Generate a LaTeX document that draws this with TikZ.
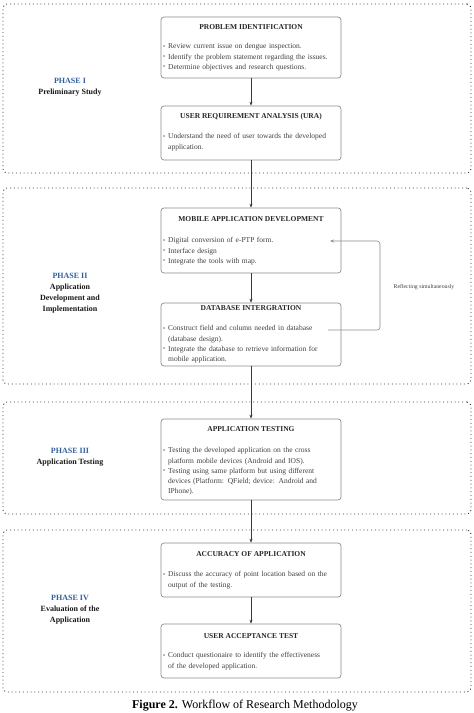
\documentclass[tikz,border=0pt]{standalone}
\usepackage{fontspec}
\setmainfont{Liberation Serif}
\usetikzlibrary{arrows.meta}
\definecolor{boxline}{HTML}{8C8C8C}
\definecolor{bodytext}{HTML}{404040}
\definecolor{phaseblue}{HTML}{2F5F9E}
\definecolor{dotline}{HTML}{3A3A3A}
\newcommand\bl{\makebox[5pt][l]{\raisebox{0.6pt}{\fontsize{6}{6}\selectfont\textbullet}}}
\newcommand\cn{\\\hspace*{5pt}}
\begin{document}
\begin{tikzpicture}[x=1pt,y=-1pt,
  phasebox/.style={draw=dotline, line width=0.9pt, dash pattern=on 1pt off 2.8pt, rounded corners=4pt},
  stepbox/.style={draw=boxline, line width=0.7pt, rounded corners=3pt, minimum width=180pt, inner sep=0pt},
  steptitle/.style={font=\fontsize{7.5}{9}\selectfont\bfseries, text=black!85, inner sep=0pt},
  stepbody/.style={font=\fontsize{7.5}{10.2}\selectfont, text=bodytext, inner sep=0pt, text width=185pt, align=left, anchor=north west},
  phaselabel/.style={font=\fontsize{8}{11}\selectfont\bfseries, align=center, inner sep=0pt, text=black!90},
  flow/.style={draw=dotline, line width=0.6pt, -{Stealth[length=4pt,width=3pt]}},
  fb/.style={draw=boxline, line width=0.6pt, rounded corners=3pt, -{Stealth[length=4pt,width=3pt]}}
]
\useasboundingbox (0,0) rectangle (474,713);

% phase frames
\node[phasebox, minimum width=468pt, minimum height=169pt, inner sep=0pt] (ph1) at (237,88.5) {};
\node[phasebox, minimum width=468pt, minimum height=196pt, inner sep=0pt] (ph2) at (237,286) {};
\node[phasebox, minimum width=468pt, minimum height=112pt, inner sep=0pt] (ph3) at (237,458) {};
\node[phasebox, minimum width=468pt, minimum height=162pt, inner sep=0pt] (ph4) at (237,611) {};

% phase labels
\node[phaselabel] (l1) at (70,87.5) {\textcolor{phaseblue}{PHASE I}\\Preliminary Study};
\node[phaselabel] (l2) at (70,293) {\textcolor{phaseblue}{PHASE II}\\Application\\Development and\\Implementation};
\node[phaselabel] (l3) at (70,457.5) {\textcolor{phaseblue}{PHASE III}\\Application Testing};
\node[phaselabel] (l4) at (70,610) {\textcolor{phaseblue}{PHASE IV}\\Evaluation of the\\Application};

% step boxes
\node[stepbox, minimum height=61pt] (pi) at (251,47.5) {};
\node[steptitle] (pit) at (251,27) {PROBLEM IDENTIFICATION};
\node[stepbody] (pib) at (163,43.5) {\bl Review current issue on dengue inspection.\\\bl Identify the problem statement regarding the issues.\\\bl Determine objectives and research questions.};

\node[stepbox, minimum height=54pt] (ura) at (251,133) {};
\node[steptitle] (urat) at (251,117) {USER REQUIREMENT ANALYSIS (URA)};
\node[stepbody] (urab) at (163,133.5) {\bl Understand the need of user towards the developed\cn application.};

\node[stepbox, minimum height=65pt] (mad) at (251,240.5) {};
\node[steptitle] (madt) at (251,219) {MOBILE APPLICATION DEVELOPMENT};
\node[stepbody] (madb) at (163,237.5) {\bl Digital conversion of e-PTP form.\\\bl Interface design\\\bl Integrate the tools with map.};

\node[stepbox, minimum height=63pt] (db) at (251,334.5) {};
\node[steptitle] (dbt) at (251,308) {DATABASE INTERGRATION};
\node[stepbody] (dbb) at (163,325.5) {\bl Construct field and column needed in database\cn (database design).\\\bl Integrate the database to retrieve information for\cn mobile application.};

\node[stepbox, minimum height=81pt] (at) at (251,459.5) {};
\node[steptitle] (att) at (251,429) {APPLICATION TESTING};
\node[stepbody] (atb) at (163,447.5) {\bl Testing the developed application on the cross\cn platform mobile devices (Android and IOS).\\\bl Testing using same platform but using different\cn devices (Platform: QField; device: Android and\cn IPhone).};

\node[stepbox, minimum height=54pt] (acc) at (251,570) {};
\node[steptitle] (acct) at (251,554) {ACCURACY OF APPLICATION};
\node[stepbody] (accb) at (163,571.5) {\bl Discuss the accuracy of point location based on the\cn output of the testing.};

\node[stepbox, minimum height=54pt] (uat) at (251,651) {};
\node[steptitle] (uatt) at (251,636) {USER ACCEPTANCE TEST};
\node[stepbody] (uatb) at (163,652.5) {\bl Conduct questionaire to identify the effectiveness\cn of the developed application.};

% flow arrows
\draw[flow] (pi.south) -- (ura.north);
\draw[flow] (ura.south) -- (mad.north);
\draw[flow] (mad.south) -- (db.north);
\draw[flow] (db.south) -- (at.north);
\draw[flow] (at.south) -- (acc.north);
\draw[flow] (acc.south) -- (uat.north);

% feedback loop
\coordinate (fbs) at (328,330);
\coordinate (fbe) at (330,241);
\draw[fb] (fbs) -- (380,330) -- (380,241) -- (fbe);
\node[font=\fontsize{5.8}{7}\selectfont, text=bodytext, inner sep=0pt] (fbl) at (424,287) {Reflecting simultaneously};

% caption
\node[font=\fontsize{12}{14}\selectfont, inner sep=0pt] (cap) at (245,706) {\textbf{Figure 2.} Workflow of Research Methodology};
\end{tikzpicture}
\end{document}
